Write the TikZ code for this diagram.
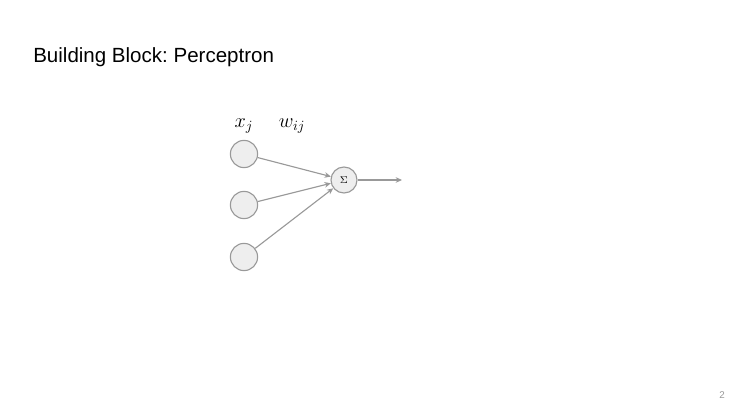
\documentclass[tikz,border=0pt]{standalone}
\usepackage{fontspec}
\setmainfont{Liberation Sans}
\usepackage{tikz}
\usetikzlibrary{arrows.meta,positioning}
\definecolor{unitfill}{HTML}{EEEEEE}
\definecolor{unitline}{HTML}{999999}
\frenchspacing

\begin{document}
\begin{tikzpicture}[
    x=0.025cm, y=-0.025cm,
    unit/.style={circle, draw=unitline, fill=unitfill, line width=0.8pt,
                 minimum size=0.68cm, inner sep=0pt},
    wire/.style={draw=unitline, line width=0.8pt,
                 -{Stealth[length=4.5pt,width=4pt]}},
    >=Stealth,
]
  \useasboundingbox (0,0) rectangle (743,418);

  % Title
  \node[anchor=base west,inner sep=0pt,font=\fontsize{14.6}{18}\selectfont] (title) at (33,63)
    {Building Block: Perceptron};

  % Inputs and sum unit
  \node[unit] (in1) at (244,154) {};
  \node[unit] (in2) at (244,205) {};
  \node[unit] (in3) at (244,257) {};
  \node[unit,minimum size=0.65cm,font=\scriptsize] (sum) at (344,180) {$\Sigma$};
  \coordinate (out) at (402,180);

  % Labels
  \node[font=\fontsize{14}{17}\selectfont] (xlab) at (244,126) {$x_j$};
  \node[font=\fontsize{14}{17}\selectfont] (wlab) at (292,126) {$w_{ij}$};

  % Connections
  \foreach \i in {1,2,3}
    \draw[wire] (in\i) -- (sum);
  \draw[wire] (sum) -- (out);

  % Page number
  \node[font=\fontsize{7}{8}\selectfont,text=unitline] (page) at (722,395) {2};
\end{tikzpicture}
\end{document}
